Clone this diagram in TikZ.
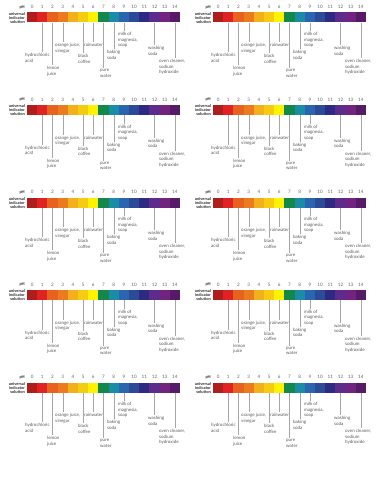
\documentclass[tikz,border=0pt]{standalone}
\usepackage{fontspec}
\setmainfont{Lato}
\definecolor{c0}{HTML}{AE1E1C}
\definecolor{c1}{HTML}{E02222}
\definecolor{c2}{HTML}{E6621E}
\definecolor{c3}{HTML}{EC7B20}
\definecolor{c4}{HTML}{F2B01C}
\definecolor{c5}{HTML}{F5CC12}
\definecolor{c6}{HTML}{FFF200}
\definecolor{c7}{HTML}{14874A}
\definecolor{c8}{HTML}{1B8CA6}
\definecolor{c9}{HTML}{2A66B0}
\definecolor{c10}{HTML}{2B4A98}
\definecolor{c11}{HTML}{2D2A84}
\definecolor{c12}{HTML}{5C2B8C}
\definecolor{c13}{HTML}{72237F}
\definecolor{c14}{HTML}{561A68}
\begin{document}
\begin{tikzpicture}[x=1pt, y=-1pt,
    num/.style={inner sep=0pt, text=black!60, font=\fontsize{4.6}{5}\selectfont},
    cell/.style={inner sep=0pt, minimum width=10.2pt, minimum height=10pt},
    side/.style={inner sep=0pt, align=right, text=black!85, font=\fontsize{4}{4.1}\bfseries\selectfont},
    lab/.style={inner sep=0pt, align=left, text=black!65, font=\fontsize{4.5}{5.6}\selectfont},
    leader/.style={black!35, line width=0.4pt}]
    \useasboundingbox (0,0) rectangle (375,500);

    \foreach \c in {0,1}
    \foreach \r in {0,...,4} {
    \begin{scope}[shift={(186*\c,92.5*\r)}]
        \node[side, anchor=east] (ph\c\r) at (25,7) {pH};
        \node[side, anchor=north east] (uis\c\r) at (25,12) {universal\\indicator\\solution};

        \foreach \n in {0,...,14} {
            \node[num] (num\c\r-\n) at ({32.1+10.2*\n},7) {\n};
            \node[cell, fill=c\n] (cell\c\r-\n) at ({32.1+10.2*\n},17.5) {};
        }

        % leaders
        \foreach \n/\yend/\xl/\txt in {1/52/25/{hydrochloric\\acid},
                2/65/47/{lemon\\juice},
                3/42/55/{orange juice,\\vinegar},
                5/53/78/{black\\coffee},
                6/42/84/{rainwater},
                7/68/100/{pure\\water},
                8/49/107/{baking\\soda},
                9/31/118/{milk of\\magnesia,\\soap},
                12/45/148/{washing\\soda},
                14/58/159/{oven cleaner,\\sodium\\hydroxide}} {
            \node[lab, anchor=north west] (lab\c\r-\n) at (\xl,{\yend+1.2}) {\txt};
            \draw[leader] (cell\c\r-\n.south) -- ([yshift=1pt]cell\c\r-\n.south |- lab\c\r-\n.north);
        }
    \end{scope}
    }
\end{tikzpicture}
\end{document}
